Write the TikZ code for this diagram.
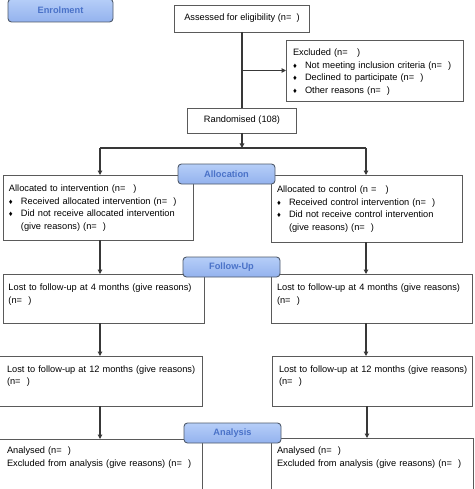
\documentclass[tikz,border=0pt]{standalone}
\usepackage{fontspec}
\setmainfont{Liberation Sans}
\usetikzlibrary{arrows.meta,calc}
\definecolor{boxgray}{HTML}{5A5A5A}
\definecolor{linegray}{HTML}{383838}
\definecolor{lbltop}{HTML}{B6CEF8}
\definecolor{lblbot}{HTML}{93B2EE}
\definecolor{lblborder}{HTML}{4F5A6B}
\definecolor{lbltext}{HTML}{4A72C8}
\newcommand{\bul}{\makebox[12pt][l]{\hspace{0pt}{\fontsize{7.5}{7.5}\selectfont ♦}}}
\begin{document}
\begin{tikzpicture}[x=1pt,y=-1pt,
  box/.style={draw=boxgray,line width=0.9pt,inner sep=0pt,outer sep=0pt,anchor=north west,fill=white},
  cbox/.style={draw=boxgray,line width=0.9pt,inner sep=0pt,outer sep=0pt,fill=white,font=\fontsize{9.25}{12.6}\selectfont},
  txt/.style={inner sep=0pt,outer sep=0pt,anchor=base west,text width=#1,align=left,font=\fontsize{9.25}{12.6}\selectfont},
  lbl/.style={draw=lblborder,line width=0.9pt,rounded corners=3.5pt,top color=lbltop,bottom color=lblbot,text=lbltext,
    font=\bfseries\fontsize{9.25}{11}\selectfont,inner sep=0pt,outer sep=0pt,anchor=north west,minimum width=97pt,minimum height=20pt},
  conn/.style={draw=linegray,line width=1.1pt},
  arr/.style={conn,-{Triangle[length=4.5pt,width=4.5pt]}}]
\useasboundingbox (0,0) rectangle (474,489);
\clip (0,0) rectangle (474,489);
\fill[white] (0,0) rectangle (474,489);

% ---- boxes ----
\node[cbox,minimum width=135pt,minimum height=27pt] (assess) at (242,18.5) {Assessed for eligibility (n=\ \ )};
\node[box,minimum width=177pt,minimum height=61pt] (excl) at (286,40) {};
\node[cbox,minimum width=109pt,minimum height=25pt] (rand) at (242,120.5) {Randomised (108)};

\node[box,minimum width=190pt,minimum height=65pt] (allocL) at (3,175) {};
\node[box,minimum width=191pt,minimum height=67pt] (allocR) at (271,175) {};
\node[box,minimum width=201pt,minimum height=49pt] (fuL) at (3,274) {};
\node[box,minimum width=201pt,minimum height=49pt] (fuR) at (271,274) {};
\node[box,minimum width=204pt,minimum height=50pt] (fzL) at (-2,356) {};
\node[box,minimum width=200pt,minimum height=50pt] (fzR) at (272,356) {};
\node[box,minimum width=204pt,minimum height=60pt] (anL) at (-2,439) {};
\node[box,minimum width=202pt,minimum height=60pt] (anR) at (271,438) {};

% ---- texts ----
\node[txt=175pt] (exclT) at (293,55.5) {Excluded (n=\ \ \ )\\
\bul Not meeting inclusion criteria (n=\ \ )\\
\bul Declined to participate (n=\ \ )\\
\bul Other reasons (n=\ \ )};
\node[txt=185pt] (allocLT) at (9,191.5) {Allocated to intervention (n=\hspace{8pt})\\
\bul Received allocated intervention (n=\ \ )\\
\bul Did not receive allocated intervention\\
\hspace*{12pt}(give reasons) (n=\ \ )};
\node[txt=185pt] (allocRT) at (277,192.5) {Allocated to control (n =\ \ \ )\\
\bul Received control intervention (n=\ \ )\\
\bul Did not receive control intervention\\
\hspace*{12pt}(give reasons) (n=\ \ )};
\node[txt=198pt] (fuLT) at (8.5,290.5) {Lost to follow-up at 4 months (give reasons)\\(n=\ \ )};
\node[txt=198pt] (fuRT) at (277,290.5) {Lost to follow-up at 4 months (give reasons)\\(n=\ \ )};
\node[txt=198pt] (fzLT) at (7,372) {Lost to follow-up at 12 months (give reasons)\\(n=\ \ )};
\node[txt=195pt] (fzRT) at (279,372) {Lost to follow-up at 12 months (give reasons)\\(n=\ \ )};
\node[txt=198pt] (anLT) at (7,453.5) {Analysed (n=\ \ )\\Excluded from analysis (give reasons) (n=\ \ )};
\node[txt=195pt] (anRT) at (277,453.5) {Analysed (n=\ \ )\\Excluded from analysis (give reasons) (n=\ \ )};

% ---- connectors ----
\coordinate (split) at (242,148);
\coordinate (splitL) at (100,148);
\coordinate (splitR) at (366,148);
\draw[conn] (assess.south) -- (rand.north);
\draw[arr] (assess.south |- excl.west) -- (excl.west);
\draw[arr] (rand.south) -- (split);
\draw[conn] (splitL) -- (splitR);
\draw[arr] (splitL) -- (splitL |- allocL.north);
\draw[arr] (splitR) -- (splitR |- allocR.north);
\draw[arr] (splitL |- allocL.south) -- (splitL |- fuL.north);
\draw[arr] (splitR |- allocR.south) -- (splitR |- fuR.north);
\draw[arr] (splitL |- fuL.south) -- (splitL |- fzL.north);
\draw[arr] (splitR |- fuR.south) -- (splitR |- fzR.north);
\draw[arr] (splitL |- fzL.south) -- (splitL |- anL.north);
\draw[arr] ([xshift=1pt]splitR |- fzR.south) -- ([xshift=1pt]splitR |- anR.north);

% ---- stage labels ----
\node[lbl,minimum width=105pt,minimum height=23pt] (enrol) at (8,-1) {Enrolment};
\node[lbl] (allocation) at (178,164) {Allocation};
\node[lbl] (followup) at (183,257) {Follow-Up};
\node[lbl] (analysis) at (184,423) {Analysis};
\end{tikzpicture}
\end{document}
